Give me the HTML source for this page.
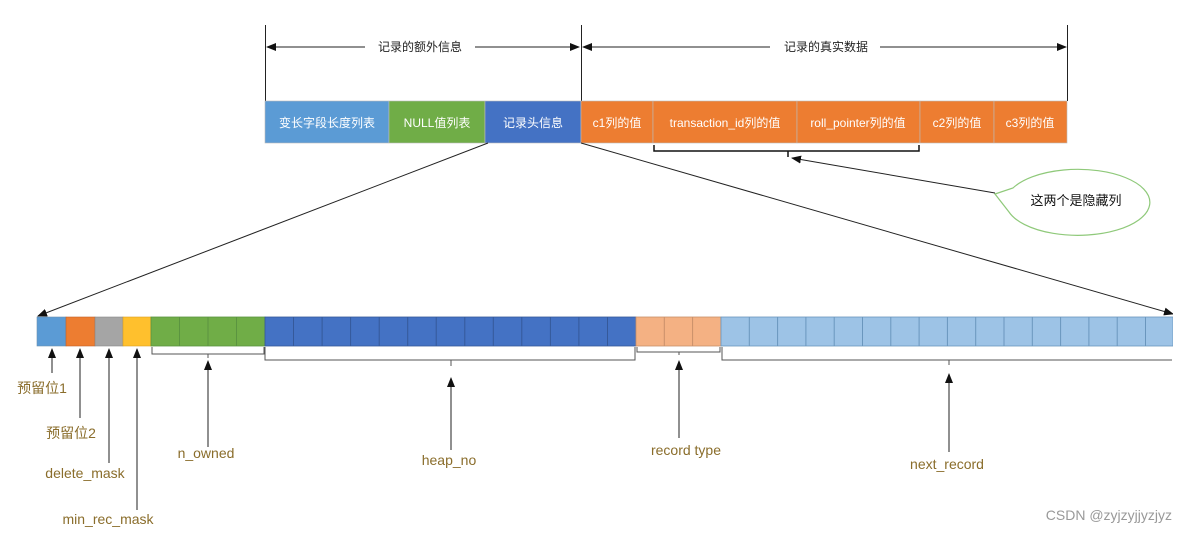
<!DOCTYPE html>
<html><head><meta charset="utf-8"><style>
html,body{margin:0;padding:0;background:#fff;}
svg{display:block;}
text{font-family:"Liberation Sans","Noto Sans CJK SC",sans-serif;}
</style></head><body>
<svg width="1187" height="533" viewBox="0 0 1187 533" xmlns="http://www.w3.org/2000/svg">
<defs>
<marker id="a" markerWidth="10" markerHeight="10" refX="9" refY="5" orient="auto" markerUnits="userSpaceOnUse"><path d="M0,1 L10,5 L0,9 z" fill="#111"/></marker>
</defs>
<g stroke="#222" stroke-width="1" fill="none">
<line x1="265.5" y1="25" x2="265.5" y2="101"/>
<line x1="581.5" y1="25" x2="581.5" y2="101"/>
<line x1="1067.5" y1="25" x2="1067.5" y2="101"/>
<line x1="365" y1="47" x2="267" y2="47" marker-end="url(#a)"/>
<line x1="475" y1="47" x2="579" y2="47" marker-end="url(#a)"/>
<line x1="770" y1="47" x2="583" y2="47" marker-end="url(#a)"/>
<line x1="880" y1="47" x2="1066" y2="47" marker-end="url(#a)"/>
</g>
<text x="420" y="51" font-size="12" text-anchor="middle" fill="#222">记录的额外信息</text>
<text x="826" y="51" font-size="12" text-anchor="middle" fill="#222">记录的真实数据</text>
<g stroke="#bbb" stroke-width="0.6">
<rect x="265" y="101" width="124" height="42" fill="#5b9bd5"/>
<rect x="389" y="101" width="96" height="42" fill="#70ad47"/>
<rect x="485" y="101" width="96" height="42" fill="#4472c4"/>
<rect x="581" y="101" width="72" height="42" fill="#ed7d31"/>
<rect x="653" y="101" width="144" height="42" fill="#ed7d31"/>
<rect x="797" y="101" width="123" height="42" fill="#ed7d31"/>
<rect x="920" y="101" width="74" height="42" fill="#ed7d31"/>
<rect x="994" y="101" width="73" height="42" fill="#ed7d31"/>
</g>
<g font-size="12" fill="#fff" text-anchor="middle">
<text x="327" y="127">变长字段长度列表</text>
<text x="437" y="127">NULL值列表</text>
<text x="533" y="127">记录头信息</text>
<text x="617" y="127">c1列的值</text>
<text x="725" y="127">transaction_id列的值</text>
<text x="858" y="127">roll_pointer列的值</text>
<text x="957" y="127">c2列的值</text>
<text x="1030" y="127">c3列的值</text>
</g>
<path d="M654,145 V151 H919 V145 M788,151 V157" stroke="#111" stroke-width="1.5" fill="none"/>
<line x1="995" y1="193" x2="792" y2="158" stroke="#222" stroke-width="1" marker-end="url(#a)"/>
<path d="M995,194 L1013,188 A72,33 0 1 1 1009,212 Z" fill="#fff" stroke="#8fc97a" stroke-width="1.2"/>
<text x="1076" y="205" font-size="13" text-anchor="middle" fill="#111">这两个是隐藏列</text>
<line x1="488" y1="143" x2="38" y2="316" stroke="#222" stroke-width="1" marker-end="url(#a)"/>
<line x1="581" y1="143" x2="1173" y2="314" stroke="#222" stroke-width="1" marker-end="url(#a)"/>
<g stroke="#6a8fb0" stroke-width="0.6">
<rect x="37" y="317" width="29" height="29" fill="#5b9bd5"/>
<rect x="66" y="317" width="29" height="29" fill="#ed7d31" stroke="#c0602a"/>
<rect x="95" y="317" width="28" height="29" fill="#a5a5a5" stroke="#888"/>
<rect x="123" y="317" width="28" height="29" fill="#ffc02d" stroke="#d9a020"/>
</g>
<rect x="151" y="317" width="114" height="29" fill="#70ad47" stroke="#5b9440" stroke-width="0.8"/>
<g stroke="#5b9440" stroke-width="1"><line x1="179.5" y1="317" x2="179.5" y2="346"/><line x1="208" y1="317" x2="208" y2="346"/><line x1="236.5" y1="317" x2="236.5" y2="346"/></g>
<rect x="265" y="317" width="371" height="29" fill="#4472c4" stroke="#35599a" stroke-width="0.8"/>
<g stroke="#35599a" stroke-width="1">
<line x1="293.5" y1="317" x2="293.5" y2="346"/><line x1="322.1" y1="317" x2="322.1" y2="346"/><line x1="350.6" y1="317" x2="350.6" y2="346"/><line x1="379.2" y1="317" x2="379.2" y2="346"/><line x1="407.7" y1="317" x2="407.7" y2="346"/><line x1="436.2" y1="317" x2="436.2" y2="346"/><line x1="464.8" y1="317" x2="464.8" y2="346"/><line x1="493.3" y1="317" x2="493.3" y2="346"/><line x1="521.8" y1="317" x2="521.8" y2="346"/><line x1="550.4" y1="317" x2="550.4" y2="346"/><line x1="578.9" y1="317" x2="578.9" y2="346"/><line x1="607.5" y1="317" x2="607.5" y2="346"/>
</g>
<rect x="636" y="317" width="85" height="29" fill="#f4b183" stroke="#c9906a" stroke-width="0.8"/>
<g stroke="#c9906a" stroke-width="1"><line x1="664.3" y1="317" x2="664.3" y2="346"/><line x1="692.6" y1="317" x2="692.6" y2="346"/></g>
<rect x="721" y="317" width="452" height="29" fill="#9dc3e6" stroke="#6a96bd" stroke-width="0.8"/>
<g stroke="#6a96bd" stroke-width="1">
<line x1="749.3" y1="317" x2="749.3" y2="346"/><line x1="777.6" y1="317" x2="777.6" y2="346"/><line x1="805.9" y1="317" x2="805.9" y2="346"/><line x1="834.2" y1="317" x2="834.2" y2="346"/><line x1="862.5" y1="317" x2="862.5" y2="346"/><line x1="890.8" y1="317" x2="890.8" y2="346"/><line x1="919.1" y1="317" x2="919.1" y2="346"/><line x1="947.4" y1="317" x2="947.4" y2="346"/><line x1="975.7" y1="317" x2="975.7" y2="346"/><line x1="1004" y1="317" x2="1004" y2="346"/><line x1="1032.3" y1="317" x2="1032.3" y2="346"/><line x1="1060.6" y1="317" x2="1060.6" y2="346"/><line x1="1088.9" y1="317" x2="1088.9" y2="346"/><line x1="1117.2" y1="317" x2="1117.2" y2="346"/><line x1="1145.5" y1="317" x2="1145.5" y2="346"/>
</g>
<rect x="1173" y="300" width="14" height="60" fill="#fff"/>
<g stroke="#555" stroke-width="1" fill="none">
<path d="M152,347 V354 H264 V347 M208,354 V358"/>
<path d="M265,347 V360 H635 V347 M451,360 V366"/>
<path d="M637,347 V352 H720 V347 M679,352 V355"/>
<path d="M722,347 V360 H1172 M949,360 V365"/>
</g>
<g stroke="#222" stroke-width="1">
<line x1="52" y1="373" x2="52" y2="349" marker-end="url(#a)"/>
<line x1="80" y1="418" x2="80" y2="349" marker-end="url(#a)"/>
<line x1="109" y1="463" x2="109" y2="349" marker-end="url(#a)"/>
<line x1="137" y1="510" x2="137" y2="349" marker-end="url(#a)"/>
<line x1="208" y1="447" x2="208" y2="361" marker-end="url(#a)"/>
<line x1="451" y1="450" x2="451" y2="378" marker-end="url(#a)"/>
<line x1="679" y1="438" x2="679" y2="361" marker-end="url(#a)"/>
<line x1="949" y1="452" x2="949" y2="374" marker-end="url(#a)"/>
</g>
<g font-size="14" fill="#8a6d2b" text-anchor="middle">
<text x="42" y="393">预留位1</text>
<text x="71" y="438">预留位2</text>
<text x="85" y="478">delete_mask</text>
<text x="108" y="524">min_rec_mask</text>
<text x="206" y="458">n_owned</text>
<text x="449" y="465">heap_no</text>
<text x="686" y="455">record type</text>
<text x="947" y="469">next_record</text>
</g>
<text x="1172" y="520" font-size="14" text-anchor="end" fill="#999">CSDN @zyjzyjjyzjyz</text>
</svg>
</body></html>
